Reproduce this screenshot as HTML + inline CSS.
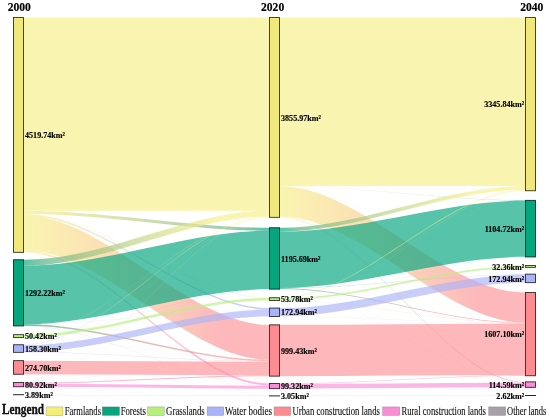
<!DOCTYPE html>
<html><head><meta charset="utf-8"><title>Sankey</title>
<style>html,body{margin:0;padding:0;background:#fff}svg{display:block}</style></head>
<body>
<svg width="550" height="420" viewBox="0 0 550 420">
<defs><linearGradient id="g0_0_0" gradientUnits="userSpaceOnUse" x1="24.0" y1="0" x2="269.0" y2="0"><stop offset="0" stop-color="#F7EF89"/><stop offset="1" stop-color="#F7EF89"/></linearGradient><linearGradient id="g0_0_1" gradientUnits="userSpaceOnUse" x1="24.0" y1="0" x2="269.0" y2="0"><stop offset="0.000" stop-color="#f7ef89"/><stop offset="0.100" stop-color="#ebe988"/><stop offset="0.200" stop-color="#dfe387"/><stop offset="0.300" stop-color="#d2dc86"/><stop offset="0.400" stop-color="#c4d585"/><stop offset="0.500" stop-color="#b4ce85"/><stop offset="0.600" stop-color="#a3c784"/><stop offset="0.700" stop-color="#8fbf83"/><stop offset="0.800" stop-color="#77b782"/><stop offset="0.900" stop-color="#57af81"/><stop offset="1.000" stop-color="#04a680"/><stop offset="1" stop-color="#04A680"/></linearGradient><linearGradient id="g0_0_2" gradientUnits="userSpaceOnUse" x1="24.0" y1="0" x2="269.0" y2="0"><stop offset="0.000" stop-color="#f7ef89"/><stop offset="0.080" stop-color="#f2ef88"/><stop offset="0.160" stop-color="#ecef87"/><stop offset="0.240" stop-color="#e6ef86"/><stop offset="0.320" stop-color="#e0ef85"/><stop offset="0.400" stop-color="#daf085"/><stop offset="0.480" stop-color="#d4f084"/><stop offset="0.560" stop-color="#cdf083"/><stop offset="0.640" stop-color="#c7f082"/><stop offset="0.720" stop-color="#bff081"/><stop offset="0.800" stop-color="#b8f080"/><stop offset="1" stop-color="#B8F080"/></linearGradient><linearGradient id="g0_0_3" gradientUnits="userSpaceOnUse" x1="24.0" y1="0" x2="269.0" y2="0"><stop offset="0.000" stop-color="#f7ef89"/><stop offset="0.080" stop-color="#f1ea98"/><stop offset="0.160" stop-color="#eae5a6"/><stop offset="0.240" stop-color="#e4dfb3"/><stop offset="0.320" stop-color="#dddabe"/><stop offset="0.400" stop-color="#d6d4c9"/><stop offset="0.480" stop-color="#ceced3"/><stop offset="0.560" stop-color="#c7c8dd"/><stop offset="0.640" stop-color="#bfc2e6"/><stop offset="0.720" stop-color="#b6bbef"/><stop offset="0.800" stop-color="#adb4f7"/><stop offset="1" stop-color="#ADB4F7"/></linearGradient><linearGradient id="g0_0_4" gradientUnits="userSpaceOnUse" x1="24.0" y1="0" x2="269.0" y2="0"><stop offset="0.000" stop-color="#f7ef89"/><stop offset="0.080" stop-color="#f8e88b"/><stop offset="0.160" stop-color="#f8e08d"/><stop offset="0.240" stop-color="#f9d98f"/><stop offset="0.320" stop-color="#f9d191"/><stop offset="0.400" stop-color="#fac892"/><stop offset="0.480" stop-color="#fabf94"/><stop offset="0.560" stop-color="#fbb696"/><stop offset="0.640" stop-color="#fbac98"/><stop offset="0.720" stop-color="#fca199"/><stop offset="0.800" stop-color="#fc959b"/><stop offset="1" stop-color="#FC959B"/></linearGradient><linearGradient id="g0_0_5" gradientUnits="userSpaceOnUse" x1="24.0" y1="0" x2="269.0" y2="0"><stop offset="0.000" stop-color="#f7ef89"/><stop offset="0.080" stop-color="#f7e893"/><stop offset="0.160" stop-color="#f7e09d"/><stop offset="0.240" stop-color="#f8d9a6"/><stop offset="0.320" stop-color="#f8d0ae"/><stop offset="0.400" stop-color="#f8c8b6"/><stop offset="0.480" stop-color="#f8bfbd"/><stop offset="0.560" stop-color="#f8b5c4"/><stop offset="0.640" stop-color="#f9abcb"/><stop offset="0.720" stop-color="#f9a0d2"/><stop offset="0.800" stop-color="#f994d8"/><stop offset="1" stop-color="#F994D8"/></linearGradient><linearGradient id="g0_0_6" gradientUnits="userSpaceOnUse" x1="24.0" y1="0" x2="269.0" y2="0"><stop offset="0.000" stop-color="#f7ef89"/><stop offset="0.080" stop-color="#f0e98c"/><stop offset="0.160" stop-color="#eae290"/><stop offset="0.240" stop-color="#e3db93"/><stop offset="0.320" stop-color="#dcd496"/><stop offset="0.400" stop-color="#d4cc99"/><stop offset="0.480" stop-color="#ccc49c"/><stop offset="0.560" stop-color="#c4bc9f"/><stop offset="0.640" stop-color="#bbb3a2"/><stop offset="0.720" stop-color="#b2aaa5"/><stop offset="0.800" stop-color="#a8a0a8"/><stop offset="1" stop-color="#A8A0A8"/></linearGradient><linearGradient id="g0_1_0" gradientUnits="userSpaceOnUse" x1="24.0" y1="0" x2="269.0" y2="0"><stop offset="0.000" stop-color="#04a680"/><stop offset="0.080" stop-color="#57af81"/><stop offset="0.160" stop-color="#77b782"/><stop offset="0.240" stop-color="#8fbf83"/><stop offset="0.320" stop-color="#a3c784"/><stop offset="0.400" stop-color="#b4ce85"/><stop offset="0.480" stop-color="#c4d585"/><stop offset="0.560" stop-color="#d2dc86"/><stop offset="0.640" stop-color="#dfe387"/><stop offset="0.720" stop-color="#ebe988"/><stop offset="0.800" stop-color="#f7ef89"/><stop offset="1" stop-color="#F7EF89"/></linearGradient><linearGradient id="g0_1_1" gradientUnits="userSpaceOnUse" x1="24.0" y1="0" x2="269.0" y2="0"><stop offset="0" stop-color="#04A680"/><stop offset="1" stop-color="#04A680"/></linearGradient><linearGradient id="g0_1_2" gradientUnits="userSpaceOnUse" x1="24.0" y1="0" x2="269.0" y2="0"><stop offset="0.000" stop-color="#04a680"/><stop offset="0.080" stop-color="#41af80"/><stop offset="0.160" stop-color="#59b880"/><stop offset="0.240" stop-color="#6ac080"/><stop offset="0.320" stop-color="#79c880"/><stop offset="0.400" stop-color="#86cf80"/><stop offset="0.480" stop-color="#92d680"/><stop offset="0.560" stop-color="#9cdd80"/><stop offset="0.640" stop-color="#a6e380"/><stop offset="0.720" stop-color="#afea80"/><stop offset="0.800" stop-color="#b8f080"/><stop offset="1" stop-color="#B8F080"/></linearGradient><linearGradient id="g0_1_3" gradientUnits="userSpaceOnUse" x1="24.0" y1="0" x2="269.0" y2="0"><stop offset="0.000" stop-color="#04a680"/><stop offset="0.080" stop-color="#3da791"/><stop offset="0.160" stop-color="#53a9a1"/><stop offset="0.240" stop-color="#64aaae"/><stop offset="0.320" stop-color="#72acbb"/><stop offset="0.400" stop-color="#7eadc6"/><stop offset="0.480" stop-color="#89afd1"/><stop offset="0.560" stop-color="#93b0db"/><stop offset="0.640" stop-color="#9cb1e5"/><stop offset="0.720" stop-color="#a5b3ee"/><stop offset="0.800" stop-color="#adb4f7"/><stop offset="1" stop-color="#ADB4F7"/></linearGradient><linearGradient id="g0_1_4" gradientUnits="userSpaceOnUse" x1="24.0" y1="0" x2="269.0" y2="0"><stop offset="0.000" stop-color="#04a680"/><stop offset="0.080" stop-color="#59a483"/><stop offset="0.160" stop-color="#79a386"/><stop offset="0.240" stop-color="#92a189"/><stop offset="0.320" stop-color="#a69f8c"/><stop offset="0.400" stop-color="#b89e8e"/><stop offset="0.480" stop-color="#c89c91"/><stop offset="0.560" stop-color="#d69a94"/><stop offset="0.640" stop-color="#e49996"/><stop offset="0.720" stop-color="#f09799"/><stop offset="0.800" stop-color="#fc959b"/><stop offset="1" stop-color="#FC959B"/></linearGradient><linearGradient id="g0_1_5" gradientUnits="userSpaceOnUse" x1="24.0" y1="0" x2="269.0" y2="0"><stop offset="0.000" stop-color="#04a680"/><stop offset="0.080" stop-color="#57a48c"/><stop offset="0.160" stop-color="#78a397"/><stop offset="0.240" stop-color="#90a1a1"/><stop offset="0.320" stop-color="#a49faa"/><stop offset="0.400" stop-color="#b69db3"/><stop offset="0.480" stop-color="#c59cbb"/><stop offset="0.560" stop-color="#d49ac3"/><stop offset="0.640" stop-color="#e198ca"/><stop offset="0.720" stop-color="#ed96d1"/><stop offset="0.800" stop-color="#f994d8"/><stop offset="1" stop-color="#F994D8"/></linearGradient><linearGradient id="g0_2_0" gradientUnits="userSpaceOnUse" x1="24.0" y1="0" x2="269.0" y2="0"><stop offset="0.000" stop-color="#b8f080"/><stop offset="0.080" stop-color="#bff081"/><stop offset="0.160" stop-color="#c7f082"/><stop offset="0.240" stop-color="#cdf083"/><stop offset="0.320" stop-color="#d4f084"/><stop offset="0.400" stop-color="#daf085"/><stop offset="0.480" stop-color="#e0ef85"/><stop offset="0.560" stop-color="#e6ef86"/><stop offset="0.640" stop-color="#ecef87"/><stop offset="0.720" stop-color="#f2ef88"/><stop offset="0.800" stop-color="#f7ef89"/><stop offset="1" stop-color="#F7EF89"/></linearGradient><linearGradient id="g0_2_1" gradientUnits="userSpaceOnUse" x1="24.0" y1="0" x2="269.0" y2="0"><stop offset="0.000" stop-color="#b8f080"/><stop offset="0.080" stop-color="#afea80"/><stop offset="0.160" stop-color="#a6e380"/><stop offset="0.240" stop-color="#9cdd80"/><stop offset="0.320" stop-color="#92d680"/><stop offset="0.400" stop-color="#86cf80"/><stop offset="0.480" stop-color="#79c880"/><stop offset="0.560" stop-color="#6ac080"/><stop offset="0.640" stop-color="#59b880"/><stop offset="0.720" stop-color="#41af80"/><stop offset="0.800" stop-color="#04a680"/><stop offset="1" stop-color="#04A680"/></linearGradient><linearGradient id="g0_2_2" gradientUnits="userSpaceOnUse" x1="24.0" y1="0" x2="269.0" y2="0"><stop offset="0" stop-color="#B8F080"/><stop offset="1" stop-color="#B8F080"/></linearGradient><linearGradient id="g0_2_3" gradientUnits="userSpaceOnUse" x1="24.0" y1="0" x2="269.0" y2="0"><stop offset="0.000" stop-color="#b8f080"/><stop offset="0.080" stop-color="#b7eb91"/><stop offset="0.160" stop-color="#b6e5a1"/><stop offset="0.240" stop-color="#b5e0ae"/><stop offset="0.320" stop-color="#b4dabb"/><stop offset="0.400" stop-color="#b3d5c6"/><stop offset="0.480" stop-color="#b1cfd1"/><stop offset="0.560" stop-color="#b0c8db"/><stop offset="0.640" stop-color="#afc2e5"/><stop offset="0.720" stop-color="#aebbee"/><stop offset="0.800" stop-color="#adb4f7"/><stop offset="1" stop-color="#ADB4F7"/></linearGradient><linearGradient id="g0_2_4" gradientUnits="userSpaceOnUse" x1="24.0" y1="0" x2="269.0" y2="0"><stop offset="0.000" stop-color="#b8f080"/><stop offset="0.080" stop-color="#c0e983"/><stop offset="0.160" stop-color="#c8e186"/><stop offset="0.240" stop-color="#cfd989"/><stop offset="0.320" stop-color="#d6d18c"/><stop offset="0.400" stop-color="#ddc98e"/><stop offset="0.480" stop-color="#e4c091"/><stop offset="0.560" stop-color="#eab694"/><stop offset="0.640" stop-color="#f0ac96"/><stop offset="0.720" stop-color="#f6a199"/><stop offset="0.800" stop-color="#fc959b"/><stop offset="1" stop-color="#FC959B"/></linearGradient><linearGradient id="g0_3_0" gradientUnits="userSpaceOnUse" x1="24.0" y1="0" x2="269.0" y2="0"><stop offset="0.000" stop-color="#adb4f7"/><stop offset="0.080" stop-color="#b6bbef"/><stop offset="0.160" stop-color="#bfc2e6"/><stop offset="0.240" stop-color="#c7c8dd"/><stop offset="0.320" stop-color="#ceced3"/><stop offset="0.400" stop-color="#d6d4c9"/><stop offset="0.480" stop-color="#dddabe"/><stop offset="0.560" stop-color="#e4dfb3"/><stop offset="0.640" stop-color="#eae5a6"/><stop offset="0.720" stop-color="#f1ea98"/><stop offset="0.800" stop-color="#f7ef89"/><stop offset="1" stop-color="#F7EF89"/></linearGradient><linearGradient id="g0_3_1" gradientUnits="userSpaceOnUse" x1="24.0" y1="0" x2="269.0" y2="0"><stop offset="0.000" stop-color="#adb4f7"/><stop offset="0.080" stop-color="#a5b3ee"/><stop offset="0.160" stop-color="#9cb1e5"/><stop offset="0.240" stop-color="#93b0db"/><stop offset="0.320" stop-color="#89afd1"/><stop offset="0.400" stop-color="#7eadc6"/><stop offset="0.480" stop-color="#72acbb"/><stop offset="0.560" stop-color="#64aaae"/><stop offset="0.640" stop-color="#53a9a1"/><stop offset="0.720" stop-color="#3da791"/><stop offset="0.800" stop-color="#04a680"/><stop offset="1" stop-color="#04A680"/></linearGradient><linearGradient id="g0_3_2" gradientUnits="userSpaceOnUse" x1="24.0" y1="0" x2="269.0" y2="0"><stop offset="0.000" stop-color="#adb4f7"/><stop offset="0.080" stop-color="#aebbee"/><stop offset="0.160" stop-color="#afc2e5"/><stop offset="0.240" stop-color="#b0c8db"/><stop offset="0.320" stop-color="#b1cfd1"/><stop offset="0.400" stop-color="#b3d5c6"/><stop offset="0.480" stop-color="#b4dabb"/><stop offset="0.560" stop-color="#b5e0ae"/><stop offset="0.640" stop-color="#b6e5a1"/><stop offset="0.720" stop-color="#b7eb91"/><stop offset="0.800" stop-color="#b8f080"/><stop offset="1" stop-color="#B8F080"/></linearGradient><linearGradient id="g0_3_3" gradientUnits="userSpaceOnUse" x1="24.0" y1="0" x2="269.0" y2="0"><stop offset="0" stop-color="#ADB4F7"/><stop offset="1" stop-color="#ADB4F7"/></linearGradient><linearGradient id="g0_3_4" gradientUnits="userSpaceOnUse" x1="24.0" y1="0" x2="269.0" y2="0"><stop offset="0.000" stop-color="#adb4f7"/><stop offset="0.080" stop-color="#b7b1f0"/><stop offset="0.160" stop-color="#c0aee8"/><stop offset="0.240" stop-color="#c9abe0"/><stop offset="0.320" stop-color="#d1a8d8"/><stop offset="0.400" stop-color="#d9a5cf"/><stop offset="0.480" stop-color="#e0a2c6"/><stop offset="0.560" stop-color="#e89fbc"/><stop offset="0.640" stop-color="#ef9cb2"/><stop offset="0.720" stop-color="#f598a7"/><stop offset="0.800" stop-color="#fc959b"/><stop offset="1" stop-color="#FC959B"/></linearGradient><linearGradient id="g0_3_5" gradientUnits="userSpaceOnUse" x1="24.0" y1="0" x2="269.0" y2="0"><stop offset="0.000" stop-color="#adb4f7"/><stop offset="0.080" stop-color="#b6b1f4"/><stop offset="0.160" stop-color="#bfaef1"/><stop offset="0.240" stop-color="#c8abee"/><stop offset="0.320" stop-color="#cfa8eb"/><stop offset="0.400" stop-color="#d7a5e8"/><stop offset="0.480" stop-color="#dea2e5"/><stop offset="0.560" stop-color="#e59ee2"/><stop offset="0.640" stop-color="#ec9bdf"/><stop offset="0.720" stop-color="#f398db"/><stop offset="0.800" stop-color="#f994d8"/><stop offset="1" stop-color="#F994D8"/></linearGradient><linearGradient id="g0_4_0" gradientUnits="userSpaceOnUse" x1="24.0" y1="0" x2="269.0" y2="0"><stop offset="0.000" stop-color="#fc959b"/><stop offset="0.080" stop-color="#fca199"/><stop offset="0.160" stop-color="#fbac98"/><stop offset="0.240" stop-color="#fbb696"/><stop offset="0.320" stop-color="#fabf94"/><stop offset="0.400" stop-color="#fac892"/><stop offset="0.480" stop-color="#f9d191"/><stop offset="0.560" stop-color="#f9d98f"/><stop offset="0.640" stop-color="#f8e08d"/><stop offset="0.720" stop-color="#f8e88b"/><stop offset="0.800" stop-color="#f7ef89"/><stop offset="1" stop-color="#F7EF89"/></linearGradient><linearGradient id="g0_4_4" gradientUnits="userSpaceOnUse" x1="24.0" y1="0" x2="269.0" y2="0"><stop offset="0" stop-color="#FC959B"/><stop offset="1" stop-color="#FC959B"/></linearGradient><linearGradient id="g0_4_5" gradientUnits="userSpaceOnUse" x1="24.0" y1="0" x2="269.0" y2="0"><stop offset="0.000" stop-color="#fc959b"/><stop offset="0.080" stop-color="#fc95a2"/><stop offset="0.160" stop-color="#fb95a9"/><stop offset="0.240" stop-color="#fb95b0"/><stop offset="0.320" stop-color="#fb95b6"/><stop offset="0.400" stop-color="#fb95bc"/><stop offset="0.480" stop-color="#fa94c2"/><stop offset="0.560" stop-color="#fa94c8"/><stop offset="0.640" stop-color="#fa94ce"/><stop offset="0.720" stop-color="#f994d3"/><stop offset="0.800" stop-color="#f994d8"/><stop offset="1" stop-color="#F994D8"/></linearGradient><linearGradient id="g0_5_0" gradientUnits="userSpaceOnUse" x1="24.0" y1="0" x2="269.0" y2="0"><stop offset="0.000" stop-color="#f994d8"/><stop offset="0.080" stop-color="#f9a0d2"/><stop offset="0.160" stop-color="#f9abcb"/><stop offset="0.240" stop-color="#f8b5c4"/><stop offset="0.320" stop-color="#f8bfbd"/><stop offset="0.400" stop-color="#f8c8b6"/><stop offset="0.480" stop-color="#f8d0ae"/><stop offset="0.560" stop-color="#f8d9a6"/><stop offset="0.640" stop-color="#f7e09d"/><stop offset="0.720" stop-color="#f7e893"/><stop offset="0.800" stop-color="#f7ef89"/><stop offset="1" stop-color="#F7EF89"/></linearGradient><linearGradient id="g0_5_4" gradientUnits="userSpaceOnUse" x1="24.0" y1="0" x2="269.0" y2="0"><stop offset="0.000" stop-color="#f994d8"/><stop offset="0.080" stop-color="#f994d3"/><stop offset="0.160" stop-color="#fa94ce"/><stop offset="0.240" stop-color="#fa94c8"/><stop offset="0.320" stop-color="#fa94c2"/><stop offset="0.400" stop-color="#fb95bc"/><stop offset="0.480" stop-color="#fb95b6"/><stop offset="0.560" stop-color="#fb95b0"/><stop offset="0.640" stop-color="#fb95a9"/><stop offset="0.720" stop-color="#fc95a2"/><stop offset="0.800" stop-color="#fc959b"/><stop offset="1" stop-color="#FC959B"/></linearGradient><linearGradient id="g0_5_5" gradientUnits="userSpaceOnUse" x1="24.0" y1="0" x2="269.0" y2="0"><stop offset="0" stop-color="#F994D8"/><stop offset="1" stop-color="#F994D8"/></linearGradient><linearGradient id="g0_6_0" gradientUnits="userSpaceOnUse" x1="24.0" y1="0" x2="269.0" y2="0"><stop offset="0.000" stop-color="#a8a0a8"/><stop offset="0.080" stop-color="#b2aaa5"/><stop offset="0.160" stop-color="#bbb3a2"/><stop offset="0.240" stop-color="#c4bc9f"/><stop offset="0.320" stop-color="#ccc49c"/><stop offset="0.400" stop-color="#d4cc99"/><stop offset="0.480" stop-color="#dcd496"/><stop offset="0.560" stop-color="#e3db93"/><stop offset="0.640" stop-color="#eae290"/><stop offset="0.720" stop-color="#f0e98c"/><stop offset="0.800" stop-color="#f7ef89"/><stop offset="1" stop-color="#F7EF89"/></linearGradient><linearGradient id="g0_6_3" gradientUnits="userSpaceOnUse" x1="24.0" y1="0" x2="269.0" y2="0"><stop offset="0.000" stop-color="#a8a0a8"/><stop offset="0.080" stop-color="#a9a2b2"/><stop offset="0.160" stop-color="#a9a4bb"/><stop offset="0.240" stop-color="#aaa6c4"/><stop offset="0.320" stop-color="#aaa8cc"/><stop offset="0.400" stop-color="#abaad4"/><stop offset="0.480" stop-color="#abacdc"/><stop offset="0.560" stop-color="#acaee3"/><stop offset="0.640" stop-color="#acb0ea"/><stop offset="0.720" stop-color="#adb2f0"/><stop offset="0.800" stop-color="#adb4f7"/><stop offset="1" stop-color="#ADB4F7"/></linearGradient><linearGradient id="g0_6_4" gradientUnits="userSpaceOnUse" x1="24.0" y1="0" x2="269.0" y2="0"><stop offset="0.000" stop-color="#a8a0a8"/><stop offset="0.080" stop-color="#b39fa7"/><stop offset="0.160" stop-color="#bc9ea5"/><stop offset="0.240" stop-color="#c69da4"/><stop offset="0.320" stop-color="#cf9ca3"/><stop offset="0.400" stop-color="#d79ba2"/><stop offset="0.480" stop-color="#df9aa0"/><stop offset="0.560" stop-color="#e7989f"/><stop offset="0.640" stop-color="#ee979e"/><stop offset="0.720" stop-color="#f5969c"/><stop offset="0.800" stop-color="#fc959b"/><stop offset="1" stop-color="#FC959B"/></linearGradient><linearGradient id="g0_6_6" gradientUnits="userSpaceOnUse" x1="24.0" y1="0" x2="269.0" y2="0"><stop offset="0" stop-color="#A8A0A8"/><stop offset="1" stop-color="#A8A0A8"/></linearGradient><linearGradient id="g1_0_0" gradientUnits="userSpaceOnUse" x1="280.0" y1="0" x2="525.0" y2="0"><stop offset="0" stop-color="#F7EF89"/><stop offset="1" stop-color="#F7EF89"/></linearGradient><linearGradient id="g1_0_1" gradientUnits="userSpaceOnUse" x1="280.0" y1="0" x2="525.0" y2="0"><stop offset="0.000" stop-color="#f7ef89"/><stop offset="0.100" stop-color="#ebe988"/><stop offset="0.200" stop-color="#dfe387"/><stop offset="0.300" stop-color="#d2dc86"/><stop offset="0.400" stop-color="#c4d585"/><stop offset="0.500" stop-color="#b4ce85"/><stop offset="0.600" stop-color="#a3c784"/><stop offset="0.700" stop-color="#8fbf83"/><stop offset="0.800" stop-color="#77b782"/><stop offset="0.900" stop-color="#57af81"/><stop offset="1.000" stop-color="#04a680"/><stop offset="1" stop-color="#04A680"/></linearGradient><linearGradient id="g1_0_2" gradientUnits="userSpaceOnUse" x1="280.0" y1="0" x2="525.0" y2="0"><stop offset="0.000" stop-color="#f7ef89"/><stop offset="0.080" stop-color="#f2ef88"/><stop offset="0.160" stop-color="#ecef87"/><stop offset="0.240" stop-color="#e6ef86"/><stop offset="0.320" stop-color="#e0ef85"/><stop offset="0.400" stop-color="#daf085"/><stop offset="0.480" stop-color="#d4f084"/><stop offset="0.560" stop-color="#cdf083"/><stop offset="0.640" stop-color="#c7f082"/><stop offset="0.720" stop-color="#bff081"/><stop offset="0.800" stop-color="#b8f080"/><stop offset="1" stop-color="#B8F080"/></linearGradient><linearGradient id="g1_0_3" gradientUnits="userSpaceOnUse" x1="280.0" y1="0" x2="525.0" y2="0"><stop offset="0.000" stop-color="#f7ef89"/><stop offset="0.080" stop-color="#f1ea98"/><stop offset="0.160" stop-color="#eae5a6"/><stop offset="0.240" stop-color="#e4dfb3"/><stop offset="0.320" stop-color="#dddabe"/><stop offset="0.400" stop-color="#d6d4c9"/><stop offset="0.480" stop-color="#ceced3"/><stop offset="0.560" stop-color="#c7c8dd"/><stop offset="0.640" stop-color="#bfc2e6"/><stop offset="0.720" stop-color="#b6bbef"/><stop offset="0.800" stop-color="#adb4f7"/><stop offset="1" stop-color="#ADB4F7"/></linearGradient><linearGradient id="g1_0_4" gradientUnits="userSpaceOnUse" x1="280.0" y1="0" x2="525.0" y2="0"><stop offset="0.000" stop-color="#f7ef89"/><stop offset="0.080" stop-color="#f8e88b"/><stop offset="0.160" stop-color="#f8e08d"/><stop offset="0.240" stop-color="#f9d98f"/><stop offset="0.320" stop-color="#f9d191"/><stop offset="0.400" stop-color="#fac892"/><stop offset="0.480" stop-color="#fabf94"/><stop offset="0.560" stop-color="#fbb696"/><stop offset="0.640" stop-color="#fbac98"/><stop offset="0.720" stop-color="#fca199"/><stop offset="0.800" stop-color="#fc959b"/><stop offset="1" stop-color="#FC959B"/></linearGradient><linearGradient id="g1_0_5" gradientUnits="userSpaceOnUse" x1="280.0" y1="0" x2="525.0" y2="0"><stop offset="0.000" stop-color="#f7ef89"/><stop offset="0.080" stop-color="#f7e893"/><stop offset="0.160" stop-color="#f7e09d"/><stop offset="0.240" stop-color="#f8d9a6"/><stop offset="0.320" stop-color="#f8d0ae"/><stop offset="0.400" stop-color="#f8c8b6"/><stop offset="0.480" stop-color="#f8bfbd"/><stop offset="0.560" stop-color="#f8b5c4"/><stop offset="0.640" stop-color="#f9abcb"/><stop offset="0.720" stop-color="#f9a0d2"/><stop offset="0.800" stop-color="#f994d8"/><stop offset="1" stop-color="#F994D8"/></linearGradient><linearGradient id="g1_0_6" gradientUnits="userSpaceOnUse" x1="280.0" y1="0" x2="525.0" y2="0"><stop offset="0.000" stop-color="#f7ef89"/><stop offset="0.080" stop-color="#f0e98c"/><stop offset="0.160" stop-color="#eae290"/><stop offset="0.240" stop-color="#e3db93"/><stop offset="0.320" stop-color="#dcd496"/><stop offset="0.400" stop-color="#d4cc99"/><stop offset="0.480" stop-color="#ccc49c"/><stop offset="0.560" stop-color="#c4bc9f"/><stop offset="0.640" stop-color="#bbb3a2"/><stop offset="0.720" stop-color="#b2aaa5"/><stop offset="0.800" stop-color="#a8a0a8"/><stop offset="1" stop-color="#A8A0A8"/></linearGradient><linearGradient id="g1_1_0" gradientUnits="userSpaceOnUse" x1="280.0" y1="0" x2="525.0" y2="0"><stop offset="0.000" stop-color="#04a680"/><stop offset="0.080" stop-color="#57af81"/><stop offset="0.160" stop-color="#77b782"/><stop offset="0.240" stop-color="#8fbf83"/><stop offset="0.320" stop-color="#a3c784"/><stop offset="0.400" stop-color="#b4ce85"/><stop offset="0.480" stop-color="#c4d585"/><stop offset="0.560" stop-color="#d2dc86"/><stop offset="0.640" stop-color="#dfe387"/><stop offset="0.720" stop-color="#ebe988"/><stop offset="0.800" stop-color="#f7ef89"/><stop offset="1" stop-color="#F7EF89"/></linearGradient><linearGradient id="g1_1_1" gradientUnits="userSpaceOnUse" x1="280.0" y1="0" x2="525.0" y2="0"><stop offset="0" stop-color="#04A680"/><stop offset="1" stop-color="#04A680"/></linearGradient><linearGradient id="g1_1_2" gradientUnits="userSpaceOnUse" x1="280.0" y1="0" x2="525.0" y2="0"><stop offset="0.000" stop-color="#04a680"/><stop offset="0.080" stop-color="#41af80"/><stop offset="0.160" stop-color="#59b880"/><stop offset="0.240" stop-color="#6ac080"/><stop offset="0.320" stop-color="#79c880"/><stop offset="0.400" stop-color="#86cf80"/><stop offset="0.480" stop-color="#92d680"/><stop offset="0.560" stop-color="#9cdd80"/><stop offset="0.640" stop-color="#a6e380"/><stop offset="0.720" stop-color="#afea80"/><stop offset="0.800" stop-color="#b8f080"/><stop offset="1" stop-color="#B8F080"/></linearGradient><linearGradient id="g1_1_3" gradientUnits="userSpaceOnUse" x1="280.0" y1="0" x2="525.0" y2="0"><stop offset="0.000" stop-color="#04a680"/><stop offset="0.080" stop-color="#3da791"/><stop offset="0.160" stop-color="#53a9a1"/><stop offset="0.240" stop-color="#64aaae"/><stop offset="0.320" stop-color="#72acbb"/><stop offset="0.400" stop-color="#7eadc6"/><stop offset="0.480" stop-color="#89afd1"/><stop offset="0.560" stop-color="#93b0db"/><stop offset="0.640" stop-color="#9cb1e5"/><stop offset="0.720" stop-color="#a5b3ee"/><stop offset="0.800" stop-color="#adb4f7"/><stop offset="1" stop-color="#ADB4F7"/></linearGradient><linearGradient id="g1_1_4" gradientUnits="userSpaceOnUse" x1="280.0" y1="0" x2="525.0" y2="0"><stop offset="0.000" stop-color="#04a680"/><stop offset="0.080" stop-color="#59a483"/><stop offset="0.160" stop-color="#79a386"/><stop offset="0.240" stop-color="#92a189"/><stop offset="0.320" stop-color="#a69f8c"/><stop offset="0.400" stop-color="#b89e8e"/><stop offset="0.480" stop-color="#c89c91"/><stop offset="0.560" stop-color="#d69a94"/><stop offset="0.640" stop-color="#e49996"/><stop offset="0.720" stop-color="#f09799"/><stop offset="0.800" stop-color="#fc959b"/><stop offset="1" stop-color="#FC959B"/></linearGradient><linearGradient id="g1_1_5" gradientUnits="userSpaceOnUse" x1="280.0" y1="0" x2="525.0" y2="0"><stop offset="0.000" stop-color="#04a680"/><stop offset="0.080" stop-color="#57a48c"/><stop offset="0.160" stop-color="#78a397"/><stop offset="0.240" stop-color="#90a1a1"/><stop offset="0.320" stop-color="#a49faa"/><stop offset="0.400" stop-color="#b69db3"/><stop offset="0.480" stop-color="#c59cbb"/><stop offset="0.560" stop-color="#d49ac3"/><stop offset="0.640" stop-color="#e198ca"/><stop offset="0.720" stop-color="#ed96d1"/><stop offset="0.800" stop-color="#f994d8"/><stop offset="1" stop-color="#F994D8"/></linearGradient><linearGradient id="g1_2_0" gradientUnits="userSpaceOnUse" x1="280.0" y1="0" x2="525.0" y2="0"><stop offset="0.000" stop-color="#b8f080"/><stop offset="0.080" stop-color="#bff081"/><stop offset="0.160" stop-color="#c7f082"/><stop offset="0.240" stop-color="#cdf083"/><stop offset="0.320" stop-color="#d4f084"/><stop offset="0.400" stop-color="#daf085"/><stop offset="0.480" stop-color="#e0ef85"/><stop offset="0.560" stop-color="#e6ef86"/><stop offset="0.640" stop-color="#ecef87"/><stop offset="0.720" stop-color="#f2ef88"/><stop offset="0.800" stop-color="#f7ef89"/><stop offset="1" stop-color="#F7EF89"/></linearGradient><linearGradient id="g1_2_1" gradientUnits="userSpaceOnUse" x1="280.0" y1="0" x2="525.0" y2="0"><stop offset="0.000" stop-color="#b8f080"/><stop offset="0.080" stop-color="#afea80"/><stop offset="0.160" stop-color="#a6e380"/><stop offset="0.240" stop-color="#9cdd80"/><stop offset="0.320" stop-color="#92d680"/><stop offset="0.400" stop-color="#86cf80"/><stop offset="0.480" stop-color="#79c880"/><stop offset="0.560" stop-color="#6ac080"/><stop offset="0.640" stop-color="#59b880"/><stop offset="0.720" stop-color="#41af80"/><stop offset="0.800" stop-color="#04a680"/><stop offset="1" stop-color="#04A680"/></linearGradient><linearGradient id="g1_2_2" gradientUnits="userSpaceOnUse" x1="280.0" y1="0" x2="525.0" y2="0"><stop offset="0" stop-color="#B8F080"/><stop offset="1" stop-color="#B8F080"/></linearGradient><linearGradient id="g1_2_3" gradientUnits="userSpaceOnUse" x1="280.0" y1="0" x2="525.0" y2="0"><stop offset="0.000" stop-color="#b8f080"/><stop offset="0.080" stop-color="#b7eb91"/><stop offset="0.160" stop-color="#b6e5a1"/><stop offset="0.240" stop-color="#b5e0ae"/><stop offset="0.320" stop-color="#b4dabb"/><stop offset="0.400" stop-color="#b3d5c6"/><stop offset="0.480" stop-color="#b1cfd1"/><stop offset="0.560" stop-color="#b0c8db"/><stop offset="0.640" stop-color="#afc2e5"/><stop offset="0.720" stop-color="#aebbee"/><stop offset="0.800" stop-color="#adb4f7"/><stop offset="1" stop-color="#ADB4F7"/></linearGradient><linearGradient id="g1_2_4" gradientUnits="userSpaceOnUse" x1="280.0" y1="0" x2="525.0" y2="0"><stop offset="0.000" stop-color="#b8f080"/><stop offset="0.080" stop-color="#c0e983"/><stop offset="0.160" stop-color="#c8e186"/><stop offset="0.240" stop-color="#cfd989"/><stop offset="0.320" stop-color="#d6d18c"/><stop offset="0.400" stop-color="#ddc98e"/><stop offset="0.480" stop-color="#e4c091"/><stop offset="0.560" stop-color="#eab694"/><stop offset="0.640" stop-color="#f0ac96"/><stop offset="0.720" stop-color="#f6a199"/><stop offset="0.800" stop-color="#fc959b"/><stop offset="1" stop-color="#FC959B"/></linearGradient><linearGradient id="g1_2_5" gradientUnits="userSpaceOnUse" x1="280.0" y1="0" x2="525.0" y2="0"><stop offset="0.000" stop-color="#b8f080"/><stop offset="0.080" stop-color="#c0e98c"/><stop offset="0.160" stop-color="#c7e197"/><stop offset="0.240" stop-color="#ced9a1"/><stop offset="0.320" stop-color="#d5d1aa"/><stop offset="0.400" stop-color="#dbc8b3"/><stop offset="0.480" stop-color="#e2bfbb"/><stop offset="0.560" stop-color="#e8b6c3"/><stop offset="0.640" stop-color="#eeabca"/><stop offset="0.720" stop-color="#f3a0d1"/><stop offset="0.800" stop-color="#f994d8"/><stop offset="1" stop-color="#F994D8"/></linearGradient><linearGradient id="g1_3_0" gradientUnits="userSpaceOnUse" x1="280.0" y1="0" x2="525.0" y2="0"><stop offset="0.000" stop-color="#adb4f7"/><stop offset="0.080" stop-color="#b6bbef"/><stop offset="0.160" stop-color="#bfc2e6"/><stop offset="0.240" stop-color="#c7c8dd"/><stop offset="0.320" stop-color="#ceced3"/><stop offset="0.400" stop-color="#d6d4c9"/><stop offset="0.480" stop-color="#dddabe"/><stop offset="0.560" stop-color="#e4dfb3"/><stop offset="0.640" stop-color="#eae5a6"/><stop offset="0.720" stop-color="#f1ea98"/><stop offset="0.800" stop-color="#f7ef89"/><stop offset="1" stop-color="#F7EF89"/></linearGradient><linearGradient id="g1_3_1" gradientUnits="userSpaceOnUse" x1="280.0" y1="0" x2="525.0" y2="0"><stop offset="0.000" stop-color="#adb4f7"/><stop offset="0.080" stop-color="#a5b3ee"/><stop offset="0.160" stop-color="#9cb1e5"/><stop offset="0.240" stop-color="#93b0db"/><stop offset="0.320" stop-color="#89afd1"/><stop offset="0.400" stop-color="#7eadc6"/><stop offset="0.480" stop-color="#72acbb"/><stop offset="0.560" stop-color="#64aaae"/><stop offset="0.640" stop-color="#53a9a1"/><stop offset="0.720" stop-color="#3da791"/><stop offset="0.800" stop-color="#04a680"/><stop offset="1" stop-color="#04A680"/></linearGradient><linearGradient id="g1_3_2" gradientUnits="userSpaceOnUse" x1="280.0" y1="0" x2="525.0" y2="0"><stop offset="0.000" stop-color="#adb4f7"/><stop offset="0.080" stop-color="#aebbee"/><stop offset="0.160" stop-color="#afc2e5"/><stop offset="0.240" stop-color="#b0c8db"/><stop offset="0.320" stop-color="#b1cfd1"/><stop offset="0.400" stop-color="#b3d5c6"/><stop offset="0.480" stop-color="#b4dabb"/><stop offset="0.560" stop-color="#b5e0ae"/><stop offset="0.640" stop-color="#b6e5a1"/><stop offset="0.720" stop-color="#b7eb91"/><stop offset="0.800" stop-color="#b8f080"/><stop offset="1" stop-color="#B8F080"/></linearGradient><linearGradient id="g1_3_3" gradientUnits="userSpaceOnUse" x1="280.0" y1="0" x2="525.0" y2="0"><stop offset="0" stop-color="#ADB4F7"/><stop offset="1" stop-color="#ADB4F7"/></linearGradient><linearGradient id="g1_3_4" gradientUnits="userSpaceOnUse" x1="280.0" y1="0" x2="525.0" y2="0"><stop offset="0.000" stop-color="#adb4f7"/><stop offset="0.080" stop-color="#b7b1f0"/><stop offset="0.160" stop-color="#c0aee8"/><stop offset="0.240" stop-color="#c9abe0"/><stop offset="0.320" stop-color="#d1a8d8"/><stop offset="0.400" stop-color="#d9a5cf"/><stop offset="0.480" stop-color="#e0a2c6"/><stop offset="0.560" stop-color="#e89fbc"/><stop offset="0.640" stop-color="#ef9cb2"/><stop offset="0.720" stop-color="#f598a7"/><stop offset="0.800" stop-color="#fc959b"/><stop offset="1" stop-color="#FC959B"/></linearGradient><linearGradient id="g1_3_5" gradientUnits="userSpaceOnUse" x1="280.0" y1="0" x2="525.0" y2="0"><stop offset="0.000" stop-color="#adb4f7"/><stop offset="0.080" stop-color="#b6b1f4"/><stop offset="0.160" stop-color="#bfaef1"/><stop offset="0.240" stop-color="#c8abee"/><stop offset="0.320" stop-color="#cfa8eb"/><stop offset="0.400" stop-color="#d7a5e8"/><stop offset="0.480" stop-color="#dea2e5"/><stop offset="0.560" stop-color="#e59ee2"/><stop offset="0.640" stop-color="#ec9bdf"/><stop offset="0.720" stop-color="#f398db"/><stop offset="0.800" stop-color="#f994d8"/><stop offset="1" stop-color="#F994D8"/></linearGradient><linearGradient id="g1_4_4" gradientUnits="userSpaceOnUse" x1="280.0" y1="0" x2="525.0" y2="0"><stop offset="0" stop-color="#FC959B"/><stop offset="1" stop-color="#FC959B"/></linearGradient><linearGradient id="g1_5_0" gradientUnits="userSpaceOnUse" x1="280.0" y1="0" x2="525.0" y2="0"><stop offset="0.000" stop-color="#f994d8"/><stop offset="0.080" stop-color="#f9a0d2"/><stop offset="0.160" stop-color="#f9abcb"/><stop offset="0.240" stop-color="#f8b5c4"/><stop offset="0.320" stop-color="#f8bfbd"/><stop offset="0.400" stop-color="#f8c8b6"/><stop offset="0.480" stop-color="#f8d0ae"/><stop offset="0.560" stop-color="#f8d9a6"/><stop offset="0.640" stop-color="#f7e09d"/><stop offset="0.720" stop-color="#f7e893"/><stop offset="0.800" stop-color="#f7ef89"/><stop offset="1" stop-color="#F7EF89"/></linearGradient><linearGradient id="g1_5_4" gradientUnits="userSpaceOnUse" x1="280.0" y1="0" x2="525.0" y2="0"><stop offset="0.000" stop-color="#f994d8"/><stop offset="0.080" stop-color="#f994d3"/><stop offset="0.160" stop-color="#fa94ce"/><stop offset="0.240" stop-color="#fa94c8"/><stop offset="0.320" stop-color="#fa94c2"/><stop offset="0.400" stop-color="#fb95bc"/><stop offset="0.480" stop-color="#fb95b6"/><stop offset="0.560" stop-color="#fb95b0"/><stop offset="0.640" stop-color="#fb95a9"/><stop offset="0.720" stop-color="#fc95a2"/><stop offset="0.800" stop-color="#fc959b"/><stop offset="1" stop-color="#FC959B"/></linearGradient><linearGradient id="g1_5_5" gradientUnits="userSpaceOnUse" x1="280.0" y1="0" x2="525.0" y2="0"><stop offset="0" stop-color="#F994D8"/><stop offset="1" stop-color="#F994D8"/></linearGradient><linearGradient id="g1_6_3" gradientUnits="userSpaceOnUse" x1="280.0" y1="0" x2="525.0" y2="0"><stop offset="0.000" stop-color="#a8a0a8"/><stop offset="0.080" stop-color="#a9a2b2"/><stop offset="0.160" stop-color="#a9a4bb"/><stop offset="0.240" stop-color="#aaa6c4"/><stop offset="0.320" stop-color="#aaa8cc"/><stop offset="0.400" stop-color="#abaad4"/><stop offset="0.480" stop-color="#abacdc"/><stop offset="0.560" stop-color="#acaee3"/><stop offset="0.640" stop-color="#acb0ea"/><stop offset="0.720" stop-color="#adb2f0"/><stop offset="0.800" stop-color="#adb4f7"/><stop offset="1" stop-color="#ADB4F7"/></linearGradient><linearGradient id="g1_6_4" gradientUnits="userSpaceOnUse" x1="280.0" y1="0" x2="525.0" y2="0"><stop offset="0.000" stop-color="#a8a0a8"/><stop offset="0.080" stop-color="#b39fa7"/><stop offset="0.160" stop-color="#bc9ea5"/><stop offset="0.240" stop-color="#c69da4"/><stop offset="0.320" stop-color="#cf9ca3"/><stop offset="0.400" stop-color="#d79ba2"/><stop offset="0.480" stop-color="#df9aa0"/><stop offset="0.560" stop-color="#e7989f"/><stop offset="0.640" stop-color="#ee979e"/><stop offset="0.720" stop-color="#f5969c"/><stop offset="0.800" stop-color="#fc959b"/><stop offset="1" stop-color="#FC959B"/></linearGradient><linearGradient id="g1_6_6" gradientUnits="userSpaceOnUse" x1="280.0" y1="0" x2="525.0" y2="0"><stop offset="0" stop-color="#A8A0A8"/><stop offset="1" stop-color="#A8A0A8"/></linearGradient></defs>
<rect width="550" height="420" fill="#fff"/>
<g>
<path d="M24.00,17.55C104.85,17.55 188.15,17.55 269.00,17.55L269.00,210.76C188.15,210.76 104.85,210.76 24.00,210.76Z" fill="url(#g0_0_0)" fill-opacity="0.67"/>
<path d="M24.00,210.76C104.85,210.76 188.15,227.75 269.00,227.75L269.00,230.75C188.15,230.75 104.85,213.76 24.00,213.76Z" fill="url(#g0_0_1)" fill-opacity="0.67"/>
<path d="M24.00,213.76C104.85,213.76 188.15,297.75 269.00,297.75L269.00,298.00C188.15,298.00 104.85,214.01 24.00,214.01Z" fill="url(#g0_0_2)" fill-opacity="0.60"/>
<path d="M24.00,213.98C104.85,213.98 188.15,308.05 269.00,308.05L269.00,309.48C188.15,309.48 104.85,215.42 24.00,215.42Z" fill="url(#g0_0_3)" fill-opacity="0.67"/>
<path d="M24.00,215.42C104.85,215.42 188.15,324.85 269.00,324.85L269.00,359.78C188.15,359.78 104.85,250.34 24.00,250.34Z" fill="url(#g0_0_4)" fill-opacity="0.67"/>
<path d="M24.00,250.34C104.85,250.34 188.15,383.45 269.00,383.45L269.00,385.39C188.15,385.39 104.85,252.28 24.00,252.28Z" fill="url(#g0_0_5)" fill-opacity="0.67"/>
<path d="M24.00,252.28C104.85,252.28 188.15,395.80 269.00,395.80L269.00,396.05C188.15,396.05 104.85,252.53 24.00,252.53Z" fill="url(#g0_0_6)" fill-opacity="0.18"/>
<path d="M24.00,259.75C104.85,259.75 188.15,210.52 269.00,210.52L269.00,216.56C188.15,216.56 104.85,265.79 24.00,265.79Z" fill="url(#g0_1_0)" fill-opacity="0.67"/>
<path d="M24.00,265.79C104.85,265.79 188.15,230.74 269.00,230.74L269.00,289.09C188.15,289.09 104.85,324.13 24.00,324.13Z" fill="url(#g0_1_1)" fill-opacity="0.67"/>
<path d="M24.00,324.13C104.85,324.13 188.15,297.97 269.00,297.97L269.00,298.22C188.15,298.22 104.85,324.38 24.00,324.38Z" fill="url(#g0_1_2)" fill-opacity="0.17"/>
<path d="M24.00,324.20C104.85,324.20 188.15,309.48 269.00,309.48L269.00,309.73C188.15,309.73 104.85,324.45 24.00,324.45Z" fill="url(#g0_1_3)" fill-opacity="0.28"/>
<path d="M24.00,324.30C104.85,324.30 188.15,359.73 269.00,359.73L269.00,361.22C188.15,361.22 104.85,325.78 24.00,325.78Z" fill="url(#g0_1_4)" fill-opacity="0.67"/>
<path d="M24.00,325.78C104.85,325.78 188.15,385.39 269.00,385.39L269.00,385.64C188.15,385.64 104.85,326.03 24.00,326.03Z" fill="url(#g0_1_5)" fill-opacity="0.44"/>
<path d="M24.00,334.65C104.85,334.65 188.15,216.56 269.00,216.56L269.00,216.81C188.15,216.81 104.85,334.90 24.00,334.90Z" fill="url(#g0_2_0)" fill-opacity="0.45"/>
<path d="M24.00,334.82C104.85,334.82 188.15,289.02 269.00,289.02L269.00,289.27C188.15,289.27 104.85,335.07 24.00,335.07Z" fill="url(#g0_2_1)" fill-opacity="0.27"/>
<path d="M24.00,334.92C104.85,334.92 188.15,298.04 269.00,298.04L269.00,300.43C188.15,300.43 104.85,337.30 24.00,337.30Z" fill="url(#g0_2_2)" fill-opacity="0.67"/>
<path d="M24.00,337.30C104.85,337.30 188.15,309.58 269.00,309.58L269.00,309.83C188.15,309.83 104.85,337.55 24.00,337.55Z" fill="url(#g0_2_3)" fill-opacity="0.09"/>
<path d="M24.00,337.34C104.85,337.34 188.15,361.22 269.00,361.22L269.00,361.47C188.15,361.47 104.85,337.59 24.00,337.59Z" fill="url(#g0_2_4)" fill-opacity="0.30"/>
<path d="M24.00,344.75C104.85,344.75 188.15,216.72 269.00,216.72L269.00,217.09C188.15,217.09 104.85,345.12 24.00,345.12Z" fill="url(#g0_3_0)" fill-opacity="0.67"/>
<path d="M24.00,345.12C104.85,345.12 188.15,289.12 269.00,289.12L269.00,289.37C188.15,289.37 104.85,345.37 24.00,345.37Z" fill="url(#g0_3_1)" fill-opacity="0.09"/>
<path d="M24.00,345.15C104.85,345.15 188.15,300.42 269.00,300.42L269.00,300.67C188.15,300.67 104.85,345.40 24.00,345.40Z" fill="url(#g0_3_2)" fill-opacity="0.07"/>
<path d="M24.00,345.18C104.85,345.18 188.15,309.62 269.00,309.62L269.00,316.44C188.15,316.44 104.85,352.00 24.00,352.00Z" fill="url(#g0_3_3)" fill-opacity="0.67"/>
<path d="M24.00,352.00C104.85,352.00 188.15,361.33 269.00,361.33L269.00,361.64C188.15,361.64 104.85,352.31 24.00,352.31Z" fill="url(#g0_3_4)" fill-opacity="0.67"/>
<path d="M24.00,352.31C104.85,352.31 188.15,385.55 269.00,385.55L269.00,385.80C188.15,385.80 104.85,352.56 24.00,352.56Z" fill="url(#g0_3_5)" fill-opacity="0.10"/>
<path d="M24.00,360.65C104.85,360.65 188.15,217.09 269.00,217.09L269.00,217.34C188.15,217.34 104.85,360.90 24.00,360.90Z" fill="url(#g0_4_0)" fill-opacity="0.11"/>
<path d="M24.00,360.69C104.85,360.69 188.15,361.64 269.00,361.64L269.00,375.14C188.15,375.14 104.85,374.19 24.00,374.19Z" fill="url(#g0_4_4)" fill-opacity="0.67"/>
<path d="M24.00,374.19C104.85,374.19 188.15,385.59 269.00,385.59L269.00,385.84C188.15,385.84 104.85,374.44 24.00,374.44Z" fill="url(#g0_4_5)" fill-opacity="0.16"/>
<path d="M24.00,382.55C104.85,382.55 188.15,217.13 269.00,217.13L269.00,217.38C188.15,217.38 104.85,382.80 24.00,382.80Z" fill="url(#g0_5_0)" fill-opacity="0.53"/>
<path d="M24.00,382.75C104.85,382.75 188.15,375.13 269.00,375.13L269.00,376.13C188.15,376.13 104.85,383.75 24.00,383.75Z" fill="url(#g0_5_4)" fill-opacity="0.67"/>
<path d="M24.00,383.75C104.85,383.75 188.15,385.65 269.00,385.65L269.00,388.65C188.15,388.65 104.85,386.75 24.00,386.75Z" fill="url(#g0_5_5)" fill-opacity="0.67"/>
<path d="M24.00,394.60C104.85,394.60 188.15,217.33 269.00,217.33L269.00,217.58C188.15,217.58 104.85,394.85 24.00,394.85Z" fill="url(#g0_6_0)" fill-opacity="0.06"/>
<path d="M24.00,394.62C104.85,394.62 188.15,316.43 269.00,316.43L269.00,316.68C188.15,316.68 104.85,394.87 24.00,394.87Z" fill="url(#g0_6_3)" fill-opacity="0.05"/>
<path d="M24.00,394.64C104.85,394.64 188.15,376.13 269.00,376.13L269.00,376.38C188.15,376.38 104.85,394.89 24.00,394.89Z" fill="url(#g0_6_4)" fill-opacity="0.07"/>
<path d="M24.00,394.67C104.85,394.67 188.15,395.87 269.00,395.87L269.00,396.12C188.15,396.12 104.85,394.92 24.00,394.92Z" fill="url(#g0_6_6)" fill-opacity="0.36"/>
<path d="M280.00,17.55C360.85,17.55 444.15,17.55 525.00,17.55L525.00,185.96C444.15,185.96 360.85,185.96 280.00,185.96Z" fill="url(#g1_0_0)" fill-opacity="0.67"/>
<path d="M280.00,185.96C360.85,185.96 444.15,200.35 525.00,200.35L525.00,200.60C444.15,200.60 360.85,186.21 280.00,186.21Z" fill="url(#g1_0_1)" fill-opacity="0.58"/>
<path d="M280.00,186.18C360.85,186.18 444.15,265.55 525.00,265.55L525.00,265.80C444.15,265.80 360.85,186.43 280.00,186.43Z" fill="url(#g1_0_2)" fill-opacity="0.08"/>
<path d="M280.00,186.21C360.85,186.21 444.15,274.15 525.00,274.15L525.00,274.40C444.15,274.40 360.85,186.46 280.00,186.46Z" fill="url(#g1_0_3)" fill-opacity="0.31"/>
<path d="M280.00,186.32C360.85,186.32 444.15,292.55 525.00,292.55L525.00,322.69C444.15,322.69 360.85,216.47 280.00,216.47Z" fill="url(#g1_0_4)" fill-opacity="0.67"/>
<path d="M280.00,216.47C360.85,216.47 444.15,381.85 525.00,381.85L525.00,382.67C444.15,382.67 360.85,217.28 280.00,217.28Z" fill="url(#g1_0_5)" fill-opacity="0.67"/>
<path d="M280.00,217.28C360.85,217.28 444.15,395.40 525.00,395.40L525.00,395.65C444.15,395.65 360.85,217.53 280.00,217.53Z" fill="url(#g1_0_6)" fill-opacity="0.18"/>
<path d="M280.00,227.75C360.85,227.75 444.15,185.96 525.00,185.96L525.00,189.89C444.15,189.89 360.85,231.68 280.00,231.68Z" fill="url(#g1_1_0)" fill-opacity="0.67"/>
<path d="M280.00,231.68C360.85,231.68 444.15,200.57 525.00,200.57L525.00,256.85C444.15,256.85 360.85,287.97 280.00,287.97Z" fill="url(#g1_1_1)" fill-opacity="0.67"/>
<path d="M280.00,287.97C360.85,287.97 444.15,265.58 525.00,265.58L525.00,265.83C444.15,265.83 360.85,288.22 280.00,288.22Z" fill="url(#g1_1_2)" fill-opacity="0.09"/>
<path d="M280.00,288.00C360.85,288.00 444.15,274.26 525.00,274.26L525.00,274.52C444.15,274.52 360.85,288.26 280.00,288.26Z" fill="url(#g1_1_3)" fill-opacity="0.67"/>
<path d="M280.00,288.26C360.85,288.26 444.15,322.69 525.00,322.69L525.00,323.49C444.15,323.49 360.85,289.06 280.00,289.06Z" fill="url(#g1_1_4)" fill-opacity="0.67"/>
<path d="M280.00,289.06C360.85,289.06 444.15,382.67 525.00,382.67L525.00,382.92C444.15,382.92 360.85,289.31 280.00,289.31Z" fill="url(#g1_1_5)" fill-opacity="0.25"/>
<path d="M280.00,297.75C360.85,297.75 444.15,189.89 525.00,189.89L525.00,190.59C444.15,190.59 360.85,298.45 280.00,298.45Z" fill="url(#g1_2_0)" fill-opacity="0.67"/>
<path d="M280.00,298.45C360.85,298.45 444.15,256.85 525.00,256.85L525.00,257.10C444.15,257.10 360.85,298.70 280.00,298.70Z" fill="url(#g1_2_1)" fill-opacity="0.20"/>
<path d="M280.00,298.52C360.85,298.52 444.15,265.61 525.00,265.61L525.00,267.33C444.15,267.33 360.85,300.24 280.00,300.24Z" fill="url(#g1_2_2)" fill-opacity="0.67"/>
<path d="M280.00,300.24C360.85,300.24 444.15,274.52 525.00,274.52L525.00,274.77C444.15,274.77 360.85,300.49 280.00,300.49Z" fill="url(#g1_2_3)" fill-opacity="0.07"/>
<path d="M280.00,300.26C360.85,300.26 444.15,323.49 525.00,323.49L525.00,323.74C444.15,323.74 360.85,300.51 280.00,300.51Z" fill="url(#g1_2_4)" fill-opacity="0.44"/>
<path d="M280.00,300.42C360.85,300.42 444.15,382.76 525.00,382.76L525.00,383.01C444.15,383.01 360.85,300.67 280.00,300.67Z" fill="url(#g1_2_5)" fill-opacity="0.07"/>
<path d="M280.00,308.05C360.85,308.05 444.15,190.59 525.00,190.59L525.00,190.84C444.15,190.84 360.85,308.30 280.00,308.30Z" fill="url(#g1_3_0)" fill-opacity="0.33"/>
<path d="M280.00,308.17C360.85,308.17 444.15,256.93 525.00,256.93L525.00,257.18C444.15,257.18 360.85,308.42 280.00,308.42Z" fill="url(#g1_3_1)" fill-opacity="0.06"/>
<path d="M280.00,308.20C360.85,308.20 444.15,267.33 525.00,267.33L525.00,267.58C444.15,267.58 360.85,308.45 280.00,308.45Z" fill="url(#g1_3_2)" fill-opacity="0.07"/>
<path d="M280.00,308.22C360.85,308.22 444.15,274.55 525.00,274.55L525.00,282.62C444.15,282.62 360.85,316.29 280.00,316.29Z" fill="url(#g1_3_3)" fill-opacity="0.67"/>
<path d="M280.00,316.29C360.85,316.29 444.15,323.65 525.00,323.65L525.00,323.90C444.15,323.90 360.85,316.54 280.00,316.54Z" fill="url(#g1_3_4)" fill-opacity="0.34"/>
<path d="M280.00,316.42C360.85,316.42 444.15,382.79 525.00,382.79L525.00,383.04C444.15,383.04 360.85,316.67 280.00,316.67Z" fill="url(#g1_3_5)" fill-opacity="0.08"/>
<path d="M280.00,324.85C360.85,324.85 444.15,323.78 525.00,323.78L525.00,375.08C444.15,375.08 360.85,376.15 280.00,376.15Z" fill="url(#g1_4_4)" fill-opacity="0.67"/>
<path d="M280.00,383.45C360.85,383.45 444.15,190.71 525.00,190.71L525.00,190.96C444.15,190.96 360.85,383.70 280.00,383.70Z" fill="url(#g1_5_0)" fill-opacity="0.10"/>
<path d="M280.00,383.49C360.85,383.49 444.15,375.08 525.00,375.08L525.00,375.71C444.15,375.71 360.85,384.12 280.00,384.12Z" fill="url(#g1_5_4)" fill-opacity="0.67"/>
<path d="M280.00,384.12C360.85,384.12 444.15,382.82 525.00,382.82L525.00,387.35C444.15,387.35 360.85,388.65 280.00,388.65Z" fill="url(#g1_5_5)" fill-opacity="0.67"/>
<path d="M280.00,395.80C360.85,395.80 444.15,282.62 525.00,282.62L525.00,282.87C444.15,282.87 360.85,396.05 280.00,396.05Z" fill="url(#g1_6_3)" fill-opacity="0.08"/>
<path d="M280.00,395.83C360.85,395.83 444.15,375.71 525.00,375.71L525.00,375.96C444.15,375.96 360.85,396.08 280.00,396.08Z" fill="url(#g1_6_4)" fill-opacity="0.10"/>
<path d="M280.00,395.87C360.85,395.87 444.15,395.47 525.00,395.47L525.00,395.72C444.15,395.72 360.85,396.12 280.00,396.12Z" fill="url(#g1_6_6)" fill-opacity="0.36"/>
</g>
<g stroke="#000" stroke-opacity="0.8" stroke-width="0.9">
<rect x="13.45" y="17.55" width="10.10" height="234.80" fill="#F0E87C"/>
<rect x="13.45" y="259.75" width="10.10" height="66.20" fill="#06A57E"/>
<rect x="13.45" y="334.65" width="10.10" height="2.80" fill="#B4F07A"/>
<rect x="13.45" y="344.75" width="10.10" height="7.60" fill="#A9B3F7"/>
<rect x="13.45" y="360.65" width="10.10" height="13.60" fill="#FC8C92"/>
<rect x="13.45" y="382.55" width="10.10" height="4.20" fill="#F98CD6"/>
<line x1="13.0" y1="394.70" x2="24.0" y2="394.70" stroke="#1a1a1a" stroke-opacity="0.95" stroke-width="1"/>
<rect x="269.45" y="17.55" width="10.10" height="199.80" fill="#F0E87C"/>
<rect x="269.45" y="227.75" width="10.10" height="61.40" fill="#06A57E"/>
<rect x="269.45" y="297.75" width="10.10" height="2.70" fill="#B4F07A"/>
<rect x="269.45" y="308.05" width="10.10" height="8.40" fill="#A9B3F7"/>
<rect x="269.45" y="324.85" width="10.10" height="51.30" fill="#FC8C92"/>
<rect x="269.45" y="383.45" width="10.10" height="5.20" fill="#F98CD6"/>
<line x1="269.0" y1="395.90" x2="280.0" y2="395.90" stroke="#1a1a1a" stroke-opacity="0.95" stroke-width="1"/>
<rect x="525.45" y="17.55" width="10.10" height="173.20" fill="#F0E87C"/>
<rect x="525.45" y="200.35" width="10.10" height="56.60" fill="#06A57E"/>
<rect x="525.45" y="265.55" width="10.10" height="1.80" fill="#B4F07A"/>
<rect x="525.45" y="274.15" width="10.10" height="8.50" fill="#A9B3F7"/>
<rect x="525.45" y="292.55" width="10.10" height="83.20" fill="#FC8C92"/>
<rect x="525.45" y="381.85" width="10.10" height="5.50" fill="#F98CD6"/>
<line x1="525.0" y1="395.50" x2="536.0" y2="395.50" stroke="#1a1a1a" stroke-opacity="0.95" stroke-width="1"/>
</g>
<g font-family="'Liberation Serif', 'Times New Roman', serif" font-weight="bold" fill="#000" stroke="#000" stroke-width="0.15">
<text x="19.3" y="11.0" font-size="11.6" text-anchor="middle">2000</text>
<text x="25.0" y="138.15" font-size="8.1">4519.74km²</text>
<text x="25.0" y="296.05" font-size="8.1">1292.22km²</text>
<text x="25.0" y="339.25" font-size="8.1">50.42km²</text>
<text x="25.0" y="351.75" font-size="8.1">158.30km²</text>
<text x="25.0" y="370.65" font-size="8.1">274.70km²</text>
<text x="25.0" y="387.85" font-size="8.1">80.92km²</text>
<text x="25.0" y="397.90" font-size="8.1">3.89km²</text>
<text x="272.6" y="11.0" font-size="11.6" text-anchor="middle">2020</text>
<text x="281.0" y="120.65" font-size="8.1">3855.97km²</text>
<text x="281.0" y="261.65" font-size="8.1">1195.69km²</text>
<text x="281.0" y="302.30" font-size="8.1">53.78km²</text>
<text x="281.0" y="315.45" font-size="8.1">172.94km²</text>
<text x="281.0" y="353.70" font-size="8.1">999.43km²</text>
<text x="281.0" y="389.25" font-size="8.1">99.32km²</text>
<text x="281.0" y="399.10" font-size="8.1">3.05km²</text>
<text x="531.75" y="11.0" font-size="11.6" text-anchor="middle">2040</text>
<text x="524.2" y="107.35" font-size="8.1" text-anchor="end">3345.84km²</text>
<text x="524.2" y="231.85" font-size="8.1" text-anchor="end">1104.72km²</text>
<text x="524.2" y="269.65" font-size="8.1" text-anchor="end">32.36km²</text>
<text x="524.2" y="281.60" font-size="8.1" text-anchor="end">172.94km²</text>
<text x="524.2" y="337.35" font-size="8.1" text-anchor="end">1607.10km²</text>
<text x="524.2" y="387.80" font-size="8.1" text-anchor="end">114.59km²</text>
<text x="524.2" y="398.70" font-size="8.1" text-anchor="end">2.62km²</text>
</g>
<g font-family="'Liberation Serif', 'Times New Roman', serif" fill="#111">
<text x="1.9" y="414.4" font-size="13.8" font-weight="bold" stroke="#000" stroke-width="0.3" textLength="42.2" lengthAdjust="spacingAndGlyphs">Lengend</text>
<rect x="46.099999999999994" y="406.9" width="16.8" height="8.5" fill="#F6EE74" stroke="#555" stroke-opacity="0.5" stroke-width="0.5"/>
<text x="64.8" y="414.5" font-size="11.5" stroke="#000" stroke-width="0.12" textLength="36.2" lengthAdjust="spacingAndGlyphs">Farmlands</text>
<rect x="102.3" y="406.9" width="17.2" height="8.5" fill="#06A57E" stroke="#555" stroke-opacity="0.5" stroke-width="0.5"/>
<text x="120.7" y="414.5" font-size="11.5" stroke="#000" stroke-width="0.12" textLength="25.1" lengthAdjust="spacingAndGlyphs">Forests</text>
<rect x="147.70000000000002" y="406.9" width="16.6" height="8.5" fill="#B4F07A" stroke="#555" stroke-opacity="0.5" stroke-width="0.5"/>
<text x="166.1" y="414.5" font-size="11.5" stroke="#000" stroke-width="0.12" textLength="38.7" lengthAdjust="spacingAndGlyphs">Grasslands</text>
<rect x="207.10000000000002" y="406.9" width="16.6" height="8.5" fill="#A9B3F7" stroke="#555" stroke-opacity="0.5" stroke-width="0.5"/>
<text x="225.1" y="414.5" font-size="11.5" stroke="#000" stroke-width="0.12" textLength="46.8" lengthAdjust="spacingAndGlyphs">Water bodies</text>
<rect x="274.1" y="406.9" width="16.6" height="8.5" fill="#FC8C92" stroke="#555" stroke-opacity="0.5" stroke-width="0.5"/>
<text x="292.6" y="414.5" font-size="11.5" stroke="#000" stroke-width="0.12" textLength="87.3" lengthAdjust="spacingAndGlyphs">Urban construction lands</text>
<rect x="382.6" y="406.9" width="17.1" height="8.5" fill="#F98CD6" stroke="#555" stroke-opacity="0.5" stroke-width="0.5"/>
<text x="401.4" y="414.5" font-size="11.5" stroke="#000" stroke-width="0.12" textLength="84.6" lengthAdjust="spacingAndGlyphs">Rural construction lands</text>
<rect x="488.7" y="406.9" width="17.0" height="8.5" fill="#A8A0A8" stroke="#555" stroke-opacity="0.5" stroke-width="0.5"/>
<text x="507" y="414.5" font-size="11.5" stroke="#000" stroke-width="0.12" textLength="39.4" lengthAdjust="spacingAndGlyphs">Other lands</text>
</g>
</svg>
</body></html>
